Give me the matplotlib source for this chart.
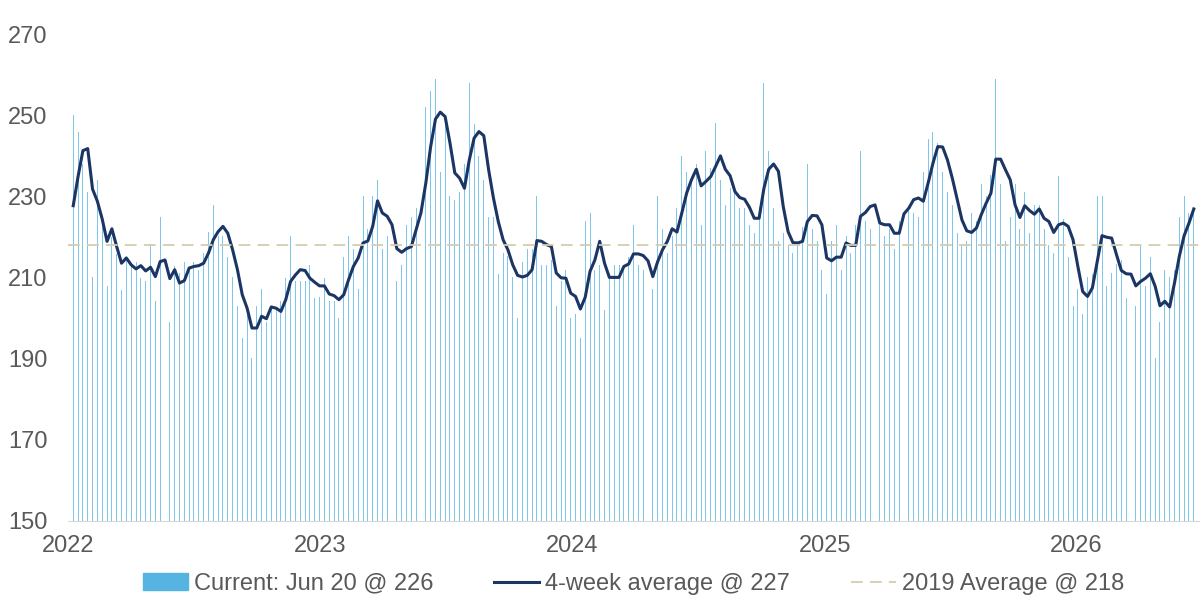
import matplotlib
matplotlib.use("Agg")
import matplotlib.pyplot as plt
import matplotlib.dates as mdates
from matplotlib.patches import Patch
import pandas as pd

plt.rcParams['font.family'] = ['Liberation Sans', 'DejaVu Sans']

# weekly values, last week ending Jun 20 2026
weekly = [
    250.2, 246.1, 238.0, 231.1, 210.1, 234.2, 225.0, 208.0, 220.0, 216.0, 207.0, 214.9, 213.6, 214.0, 209.9, 209.1,
    218.0, 204.2, 225.1, 214.4, 199.1, 212.8, 211.2, 214.0, 212.8, 214.0, 212.0, 216.1, 221.2, 228.0, 220.2, 220.2,
    215.1,
    210.1, 203.1, 195.1, 201.7, 190.2, 203.1, 207.2, 199.2, 202.9, 202.3, 204.2, 209.9, 220.2, 209.1, 209.1, 209.1,
    213.2, 205.0, 205.2, 209.9, 204.2, 204.2, 200.0, 215.1, 220.2, 217.1, 207.2, 230.1, 222.1, 230.1, 234.2, 217.1,
    220.2, 221.0,
    209.1, 213.2, 223.1, 225.1, 227.2, 229.0, 252.1, 256.2, 259.0, 236.1, 248.0, 230.1, 229.1, 231.1, 238.1, 258.2,
    248.0, 240.1, 234.2, 225.1, 225.1, 211.0, 216.1, 215.4, 210.2, 200.0, 214.0, 217.1, 217.0, 230.1, 213.2, 213.2,
    214.3, 203.1,
    209.1, 212.0, 200.0, 201.1, 195.1, 224.1, 226.0, 212.0, 213.2, 202.1, 209.9, 213.2, 213.2, 212.0, 215.2, 223.1,
    213.2, 212.0, 209.1, 207.2, 230.1, 222.1, 216.1, 220.2, 227.2, 240.1, 236.1, 233.4, 238.1, 223.1, 241.2, 237.1,
    248.2,
    234.2, 228.0, 232.1, 231.1, 227.2, 227.2, 223.1, 221.0, 227.5, 258.1, 241.2, 227.2, 219.1, 221.0, 218.2, 216.1,
    219.1, 222.6, 238.1, 222.1, 219.1, 212.0, 206.1, 219.1, 223.1, 212.0, 220.2, 216.1, 223.1, 241.2, 224.1, 222.1,
    225.1, 223.1,
    220.2, 222.0, 217.1, 224.1, 239.1, 226.4, 226.1, 225.1, 236.1, 244.2, 246.1, 243.3, 236.1, 231.1, 228.0, 221.0,
    218.2, 219.1, 226.1, 224.1, 233.1, 230.3, 235.4, 259.1, 233.1, 219.1, 225.1, 233.1, 222.0, 231.1, 221.0, 228.0,
    228.0, 222.0,
    218.2, 216.1, 235.2, 224.5, 215.1, 203.1, 207.2, 201.1, 210.2, 211.0, 230.1, 230.1, 208.0, 211.2, 213.5, 214.5,
    205.0, 209.1, 203.1, 218.2, 208.0, 215.1, 190.2, 199.1, 212.0, 210.2, 212.0, 225.1, 230.1, 226.1, 226.0,
]

four_week = [
    227.8, 235.0, 241.4, 241.9, 231.9, 228.9, 224.5, 219.0, 222.1, 217.7, 213.6, 214.9, 213.2, 212.2, 213.0, 211.7,
    212.6, 210.3, 214.0, 214.4, 209.8, 212.0, 208.7, 209.3, 212.4, 212.8, 213.0, 213.6, 216.1, 219.4, 221.4, 222.7,
    221.0,
    216.9, 212.0, 205.8, 202.5, 197.6, 197.6, 200.5, 199.9, 202.8, 202.5, 201.7, 204.6, 209.1, 210.7, 212.0, 211.8,
    209.9, 208.9, 208.0, 208.0, 206.0, 205.6, 204.6, 205.8, 209.5, 212.8, 214.9, 218.6, 219.1, 222.7, 229.0, 226.0,
    225.2, 223.1,
    217.2, 216.3, 217.2, 217.7, 221.9, 226.1, 233.4, 242.4, 249.2, 250.9, 249.8, 243.3, 235.9, 234.6, 232.1, 239.1,
    244.5, 246.1, 245.1, 236.7, 229.7, 223.9, 219.4, 216.9, 213.2, 210.6, 210.2, 210.6, 212.0, 219.2, 219.0, 218.2,
    217.7, 211.2,
    210.0, 209.9, 206.2, 205.4, 202.3, 205.2, 211.6, 214.4, 219.0, 213.6, 210.1, 210.1, 210.1, 212.8, 213.4, 215.9,
    215.9, 215.5, 214.2, 210.3, 214.0, 216.9, 219.0, 222.1, 221.3, 226.0, 230.9, 234.2, 236.8, 232.7, 233.8, 235.0,
    237.5,
    240.1, 236.8, 235.2, 231.3, 229.8, 229.4, 227.4, 224.7, 224.7, 232.1, 236.8, 238.1, 236.3, 227.6, 221.4, 218.7,
    218.6, 219.0, 223.9, 225.4, 225.3, 223.1, 214.9, 214.2, 215.1, 215.1, 218.6, 218.0, 218.0, 225.2, 226.1, 227.6,
    228.0, 223.5,
    223.1, 223.1, 221.0, 221.0, 225.8, 227.2, 229.3, 229.7, 228.9, 233.4, 238.3, 242.4, 242.3, 239.1, 234.6, 229.4,
    224.3, 221.6, 221.2, 222.3, 225.6, 228.4, 230.9, 239.3, 239.3, 236.7, 234.2, 228.0, 224.9, 227.8, 226.6, 225.7,
    227.0, 224.7,
    223.9, 221.2, 223.1, 223.5, 222.7, 219.4, 212.8, 206.6, 205.4, 207.5, 214.0, 220.4, 220.0, 219.8, 215.7, 211.8,
    211.0, 210.9, 208.0, 209.1, 209.9, 211.0, 207.9, 203.1, 204.2, 202.8, 208.7, 215.3, 220.4, 223.5, 227.0,
]

avg_2019 = 218
weeks = pd.date_range(end='2026-06-20', periods=len(weekly), freq='7D')

bar_color = '#56B4E3'

fig = plt.figure(figsize=(12, 6), dpi=100)
ax = fig.add_axes([0.057, 0.132, 0.943, 0.81])

ax.bar(weeks, weekly, width=1.4, color=bar_color, alpha=0.75, linewidth=0)
line, = ax.plot(weeks, four_week, color='#1B3564', lw=2.2)
ref = ax.axhline(avg_2019, color='#D6CCAE', lw=1.3, dashes=(6.5, 4))

ax.set_ylim(150, 270)
ax.set_yticks(range(150, 271, 20))
ax.set_xlim(pd.Timestamp('2022-01-01'), pd.Timestamp('2026-06-29'))
ax.xaxis.set_major_locator(mdates.YearLocator())
ax.xaxis.set_major_formatter(mdates.DateFormatter('%Y'))

for s in ['top', 'right', 'left']:
    ax.spines[s].set_visible(False)
ax.spines['bottom'].set_color('#D9D9D9')
ax.tick_params(axis='both', length=0, labelsize=17, labelcolor='#595959')
ax.tick_params(axis='y', pad=15)
ax.tick_params(axis='x', pad=10)

handles = [Patch(color=bar_color), line, ref]
labels = ['Current: Jun 20 @ 226', '4-week average @ 227', '2019 Average @ 218']
fig.legend(handles, labels, loc='center', bbox_to_anchor=(0.528, 0.027), ncol=3,
           frameon=False, fontsize=17, labelcolor='#595959', handlelength=1.9,
           handletextpad=0.25, columnspacing=2.6, borderaxespad=0)

fig.savefig('out.png', dpi=100)
